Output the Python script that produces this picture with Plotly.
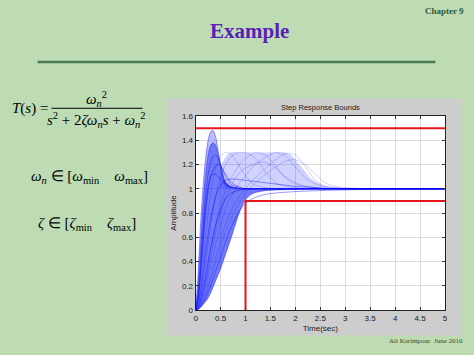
import plotly.graph_objects as go

W, H = 474, 355

# ---------------- data ----------------
t = [0, 0.05, 0.1, 0.15, 0.2, 0.25, 0.3, 0.35, 0.4, 0.45, 0.5, 0.6, 0.7, 0.8, 0.9, 1.0,
     1.1, 1.2, 1.4, 1.6, 1.8, 2.0, 2.2, 2.4, 2.6, 2.8, 3.0, 3.5, 4.0, 4.5, 5.0]

y_fast1 = [0, .3, .72, 1.02, 1.25, 1.4, 1.47, 1.48, 1.43, 1.32, 1.2, 1.03, 1.01, 1.0, 1.0, 1.0,
           1.0, 1.0, 1.0, 1.0, 1.0, 1.0, 1.0, 1.0, 1.0, 1.0, 1.0, 1.0, 1.0, 1.0, 1.0]
y_fast2 = [0, .2, .55, .88, 1.12, 1.28, 1.36, 1.38, 1.36, 1.28, 1.18, 1.06, 1.02, 1.01, 1.0, 1.0,
           1.0, 1.0, 1.0, 1.0, 1.0, 1.0, 1.0, 1.0, 1.0, 1.0, 1.0, 1.0, 1.0, 1.0, 1.0]
y_fast3 = [0, .12, .4, .7, .95, 1.12, 1.22, 1.27, 1.28, 1.26, 1.2, 1.1, 1.04, 1.02, 1.01, 1.0,
           1.0, 1.0, 1.0, 1.0, 1.0, 1.0, 1.0, 1.0, 1.0, 1.0, 1.0, 1.0, 1.0, 1.0, 1.0]
y_fast4 = [0, .08, .28, .55, .8, .98, 1.1, 1.16, 1.19, 1.2, 1.19, 1.12, 1.06, 1.03, 1.01, 1.0,
           1.0, 1.0, 1.0, 1.0, 1.0, 1.0, 1.0, 1.0, 1.0, 1.0, 1.0, 1.0, 1.0, 1.0, 1.0]
y_fast5 = [0, .1, .33, .62, .86, 1.02, 1.1, 1.12, 1.12, 1.1, 1.08, 1.04, 1.02, 1.01, 1.0, 1.0,
           1.0, 1.0, 1.0, 1.0, 1.0, 1.0, 1.0, 1.0, 1.0, 1.0, 1.0, 1.0, 1.0, 1.0, 1.0]
y_osc1 = [0, .05, .18, .38, .6, .8, .96, 1.08, 1.17, 1.23, 1.27, 1.3, 1.29, 1.24, 1.17, 1.11,
          1.06, 1.03, 1.01, 1.0, 1.0, 1.0, 1.0, 1.0, 1.0, 1.0, 1.0, 1.0, 1.0, 1.0, 1.0]
y_osc2 = [0, .03, .1, .22, .38, .54, .7, .83, .94, 1.03, 1.1, 1.2, 1.26, 1.29, 1.3, 1.3,
          1.28, 1.25, 1.14, 1.05, 1.02, 1.01, 1.0, 1.0, 1.0, 1.0, 1.0, 1.0, 1.0, 1.0, 1.0]
y_osc3 = [0, .02, .07, .14, .24, .36, .48, .59, .7, .79, .87, .99, 1.08, 1.15, 1.21, 1.25,
          1.28, 1.3, 1.28, 1.19, 1.09, 1.04, 1.02, 1.01, 1.0, 1.0, 1.0, 1.0, 1.0, 1.0, 1.0]
y_osc4 = [0, .01, .05, .1, .18, .27, .36, .45, .54, .62, .7, .83, .93, 1.0, 1.06, 1.11,
          1.16, 1.2, 1.26, 1.3, 1.27, 1.18, 1.09, 1.04, 1.02, 1.01, 1.0, 1.0, 1.0, 1.0, 1.0]
y_osc5 = [0, .01, .04, .08, .14, .21, .28, .36, .44, .51, .58, .71, .81, .89, .95, 1.0,
          1.05, 1.09, 1.17, 1.24, 1.29, 1.28, 1.18, 1.07, 1.02, 1.01, 1.0, 1.0, 1.0, 1.0, 1.0]
y_osc6 = [0, .02, .06, .13, .22, .32, .43, .53, .63, .72, .8, .93, 1.02, 1.09, 1.14, 1.17,
          1.19, 1.21, 1.22, 1.17, 1.1, 1.05, 1.02, 1.01, 1.0, 1.0, 1.0, 1.0, 1.0, 1.0, 1.0]
y_osc7 = [0, .01, .03, .07, .12, .18, .25, .32, .39, .46, .52, .64, .74, .83, .9, .96,
          1.01, 1.05, 1.12, 1.18, 1.23, 1.24, 1.2, 1.12, 1.05, 1.02, 1.01, 1.0, 1.0, 1.0, 1.0]
y_mild = [0, .05, .15, .3, .47, .62, .75, .85, .93, .99, 1.03, 1.07, 1.08, 1.08, 1.075, 1.07,
          1.065, 1.06, 1.05, 1.04, 1.03, 1.02, 1.015, 1.01, 1.005, 1.0, 1.0, 1.0, 1.0, 1.0, 1.0]
y_damp1 = [0, .02, .08, .17, .28, .4, .51, .61, .7, .77, .83, .92, .96, .98, .99, 1.0,
           1.0, 1.0, 1.0, 1.0, 1.0, 1.0, 1.0, 1.0, 1.0, 1.0, 1.0, 1.0, 1.0, 1.0, 1.0]
y_damp2 = [0, .01, .03, .06, .1, .15, .2, .26, .32, .38, .44, .56, .67, .76, .83, .88,
           .91, .93, .955, .965, .972, .977, .981, .984, .987, .989, .991, .995, .998, 1.0, 1.0]
y_slow = [0, .005, .02, .045, .07, .1, .14, .19, .24, .29, .34, .46, .58, .71, .83, .91,
          .95, .97, .985, .99, .993, .995, .997, .998, .999, 1.0, 1.0, 1.0, 1.0, 1.0, 1.0]

bundle_t = [0.5, 0.6, 0.7, 0.9, 1.2, 1.5, 1.8, 1.9, 2.0, 2.1, 2.2, 2.3, 2.4, 2.5, 2.6, 2.7, 2.8]
bundle_top = [1.18, 1.26, 1.3, 1.3, 1.3, 1.3, 1.3, 1.28, 1.24, 1.19, 1.14, 1.09, 1.06, 1.035, 1.02, 1.01, 1.0]
bundle_base_t = [0.5, 2.8]
bundle_base_y = [1.0, 1.0]

upper_t = [0, 5]
upper_y = [1.5, 1.5]
lower_t = [1, 1, 5]
lower_y = [0, 0.9, 0.9]

x_ticks = [0, 0.5, 1, 1.5, 2, 2.5, 3, 3.5, 4, 4.5, 5]
y_ticks = [0, 0.2, 0.4, 0.6, 0.8, 1, 1.2, 1.4, 1.6]

rise_curves = [y_fast1, y_fast2, y_fast3, y_fast4, y_fast5, y_mild, y_damp1, y_damp2, y_slow]
bundle_curves = [y_osc1, y_osc2, y_osc3, y_osc4, y_osc5, y_osc6, y_osc7]

# ---------------- figure ----------------
fig = go.Figure()

# dense rise mass
fig.add_trace(go.Scatter(x=t, y=y_slow, mode="lines", line=dict(width=0, shape="spline"),
                         hoverinfo="skip", showlegend=False))
fig.add_trace(go.Scatter(x=t, y=y_fast2, mode="lines", line=dict(width=0, shape="spline"),
                         fill="tonexty", fillcolor="rgba(25,40,245,0.62)",
                         hoverinfo="skip", showlegend=False))
fig.add_trace(go.Scatter(x=t, y=y_fast1, mode="lines", line=dict(width=0, shape="spline"),
                         fill="tonexty", fillcolor="rgba(60,70,245,0.35)",
                         hoverinfo="skip", showlegend=False))
# overshoot bundle
fig.add_trace(go.Scatter(x=bundle_base_t, y=bundle_base_y, mode="lines", line=dict(width=0),
                         hoverinfo="skip", showlegend=False))
fig.add_trace(go.Scatter(x=bundle_t, y=bundle_top, mode="lines", line=dict(width=0, shape="spline"),
                         fill="tonexty", fillcolor="rgba(40,50,255,0.22)",
                         hoverinfo="skip", showlegend=False))

for c in bundle_curves:
    fig.add_trace(go.Scatter(x=t, y=c, mode="lines",
                             line=dict(color="rgba(0,0,255,0.3)", width=0.6, shape="spline", smoothing=0.6),
                             hoverinfo="skip", showlegend=False))
for c in rise_curves:
    fig.add_trace(go.Scatter(x=t, y=c, mode="lines",
                             line=dict(color="rgba(0,0,255,0.5)", width=0.8, shape="spline", smoothing=0.6),
                             hoverinfo="skip", showlegend=False))

# bounds
fig.add_trace(go.Scatter(x=upper_t, y=upper_y, mode="lines", line=dict(color="#e8141c", width=2),
                         hoverinfo="skip", showlegend=False))
fig.add_trace(go.Scatter(x=lower_t, y=lower_y, mode="lines", line=dict(color="#e8141c", width=2),
                         hoverinfo="skip", showlegend=False))

def px(x):
    return x / W

def py(y):
    return 1 - y / H

axis_font = dict(family="Liberation Sans, Arial, sans-serif", size=8, color="#1a1a1a")

fig.update_layout(
    width=W, height=H, autosize=False,
    margin=dict(l=0, r=0, t=0, b=0),
    paper_bgcolor="#bddcb4",
    plot_bgcolor="white",
    showlegend=False,
    xaxis=dict(domain=[px(195.7), px(447.7)], range=[0, 5], tickvals=x_ticks,
               ticks="inside", ticklen=3, tickcolor="#333", showline=True, linecolor="#222",
               linewidth=1, mirror="ticks", showgrid=True, gridcolor="#dcdcdc", gridwidth=1,
               zeroline=False, tickfont=axis_font, layer="above traces",
               title=dict(text="Time(sec)", font=axis_font, standoff=3)),
    yaxis=dict(domain=[py(314), py(115)], range=[0, 1.6], tickvals=y_ticks,
               ticks="inside", ticklen=3, tickcolor="#333", showline=True, linecolor="#222",
               linewidth=1, mirror="ticks", showgrid=True, gridcolor="#dcdcdc", gridwidth=1,
               zeroline=False, tickfont=axis_font, layer="above traces",
               title=dict(text="Amplitude", font=axis_font, standoff=4)),
)

shapes = [
    # grey MATLAB figure panel
    dict(type="rect", xref="paper", yref="paper", x0=px(166), x1=px(465), y0=py(340), y1=py(97),
         fillcolor="#cdcdcd", line=dict(width=0), layer="below"),
    # white axes area
    dict(type="rect", xref="x domain", yref="y domain", x0=0, x1=1, y0=0, y1=1,
         fillcolor="white", line=dict(width=0), layer="below"),
    # separator line under the title
    dict(type="line", xref="paper", yref="paper", x0=px(36), x1=px(438), y0=py(59.5), y1=py(59.5),
         line=dict(color="#4a7a52", width=2.5)),
    # fraction bar
    dict(type="line", xref="paper", yref="paper", x0=px(50), x1=px(142), y0=py(107), y1=py(107),
         line=dict(color="black", width=1)),
]
fig.update_layout(shapes=shapes)

serif = "Liberation Serif, Times New Roman, serif"
ann = [
    dict(x=px(250), y=py(28), text="<b>Example</b>", font=dict(family=serif, size=21, color="#5b21b6")),
    dict(x=px(469), y=py(7), text="<b>Chapter 9</b>", xanchor="right",
         font=dict(family=serif, size=9, color="#2f5a3c")),
    dict(x=px(468), y=py(346), text="Ali Karimpour  June 2010", xanchor="right",
         font=dict(family=serif, size=7, color="#2f4a34")),
    dict(x=px(321.7), y=py(106.5), text="Step Response Bounds",
         font=dict(family="Liberation Sans, Arial, sans-serif", size=7.5, color="#1a1a1a")),
    dict(x=px(8), y=py(107), text="<i>T</i>(<i>s</i>) =", xanchor="left",
         font=dict(family=serif, size=15, color="black")),
    dict(x=px(96), y=py(97), text="<i>ω<sub>n</sub></i><sup>2</sup>",
         font=dict(family=serif, size=15, color="black")),
    dict(x=px(96), y=py(119), text="<i>s</i><sup>2</sup> + 2<i>ζω<sub>n</sub>s</i> + <i>ω<sub>n</sub></i><sup>2</sup>",
         font=dict(family=serif, size=15, color="black")),
    dict(x=px(27), y=py(178), text="<i>ω<sub>n</sub></i> ∈ [<i>ω</i><sub>min</sub>    <i>ω</i><sub>max</sub>]",
         xanchor="left", font=dict(family=serif, size=15, color="black")),
    dict(x=px(34), y=py(226), text="<i>ζ</i> ∈ [<i>ζ</i><sub>min</sub>    <i>ζ</i><sub>max</sub>]",
         xanchor="left", font=dict(family=serif, size=15, color="black")),
]
for a in ann:
    a.update(xref="paper", yref="paper", showarrow=False)
    a.setdefault("yanchor", "middle")
    a.setdefault("xanchor", "center")
fig.update_layout(annotations=ann)

fig.write_html("out.html", config={"displayModeBar": False})
